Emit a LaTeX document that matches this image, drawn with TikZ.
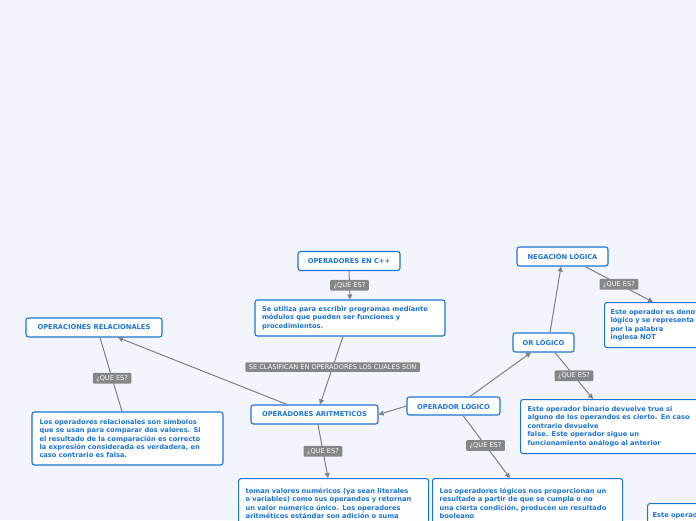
\documentclass[tikz,border=0pt]{standalone}
\usepackage{fontspec}
\setmainfont{DejaVu Sans}
\usetikzlibrary{arrows.meta}
\hyphenpenalty=10000
\exhyphenpenalty=10000
\definecolor{bg}{HTML}{F3F5FD}
\definecolor{bl}{HTML}{1C74D8}
\definecolor{lb}{HTML}{868686}
\definecolor{ln}{HTML}{7F7F8A}
\tikzset{
 box/.style={draw=bl,line width=1.1pt,fill=white,rounded corners=2.5pt,text=bl,font=\fontsize{6.7}{8.4}\selectfont\bfseries,align=left,inner sep=0pt},
 title/.style={box,align=center},
 lab/.style={fill=lb,text=white,font=\fontsize{6.6}{7}\selectfont,inner xsep=3.5pt,inner ysep=2.3pt,rounded corners=1pt},
 con/.style={draw=ln,line width=1pt},
 arr/.style={con,-{Triangle[length=5pt,width=5pt]}}
}
\begin{document}
\begin{tikzpicture}[x=1pt,y=-1pt]
\fill[bg] (0,0) rectangle (696,520);
\useasboundingbox (0,0) rectangle (696,520);
\clip (0,0) rectangle (696,520);
\node[title,minimum width=102,minimum height=19] (cpp) at (349,261) {OPERADORES EN C++};
\node[box,minimum width=190,minimum height=36,text width=176] (util) at (350,318) {Se utiliza para escribir programas mediante\\módulos que pueden ser funciones y\\procedimientos.};
\node[title,minimum width=136,minimum height=19] (rel) at (94,327.5) {OPERACIONES RELACIONALES};
\node[box,minimum width=191,minimum height=53,text width=176] (reld) at (127.5,438.5) {Los operadores relacionales son símbolos\\que se usan para comparar dos valores. Si\\el resultado de la comparación es correcto\\la expresión considerada es verdadera, en\\caso contrario es falsa.};
\node[title,minimum width=127,minimum height=19] (ari) at (314.5,414.5) {OPERADORES ARITMETICOS};
\node[title,minimum width=93,minimum height=18] (log) at (453.5,406) {OPERADOR LÓGICO};
\node[title,minimum width=61,minimum height=19] (or) at (543.5,342.5) {OR LÓGICO};
\node[title,minimum width=91,minimum height=19] (neg) at (562.5,256.5) {NEGACIÓN LÓGICA};
\node[box,minimum width=130,minimum height=45,text width=118,anchor=north west] (negd) at (604,302) {Este operador es denotado\\lógico y se representa\\por la palabra\\inglesa NOT};
\node[box,minimum width=200,minimum height=54,text width=186,anchor=north west] (ord) at (520,399) {Este operador binario devuelve true si\\alguno de los operandos es cierto. En caso\\contrario devuelve\\false. Este operador sigue un\\funcionamiento análogo al anterior};
\node[box,minimum width=190,minimum height=50,text width=176,anchor=north west] (ard) at (238,478) {toman valores numéricos (ya sean literales\\o variables) como sus operandos y retornan\\un valor numérico único. Los operadores\\aritméticos estándar son adición o suma};
\node[box,minimum width=190,minimum height=50,text width=176,anchor=north west] (logd) at (432,478) {Los operadores lógicos nos proporcionan un\\resultado a partir de que se cumpla o no\\una cierta condición, producen un resultado\\booleano};
\node[box,minimum width=100,minimum height=25,text width=90,anchor=north west] (extra) at (647,503) {Este operador};
% connectors
\draw[arr] (cpp.south) -- (util.north) node[lab,midway] {¿QUE ES?};
\draw[arr] (util.south -| 343,0) -- (ari.north -| 320,0) node[lab,pos=0.45] {SE CLASIFICAN EN OPERADORES LOS CUALES SON};
\draw[con] (rel.south -| 100,0) -- (reld.north -| 122,0) node[lab,pos=0.55] {¿QUE ES?};
\draw[arr] (ari.north -| 287,0) -- (rel.south -| 118,0);
\draw[arr] (log.west) -- (ari.east);
\draw[arr] (log.north -| 470,0) -- (or.south -| 531,0);
\draw[arr] (or.north -| 550,0) -- (neg.south -| 561,0);
\draw[arr] (neg.south -| 585,0) -- (negd.north -| 653,0) node[lab,midway] {¿QUE ES?};
\draw[arr] (or.south -| 555,0) -- (ord.north -| 593,0) node[lab,midway] {¿QUE ES?};
\draw[arr] (ari.south -| 318,0) -- (ard.north -| 328,0) node[lab,midway] {¿QUE ES?};
\draw[arr] (log.south -| 463,0) -- (logd.north -| 510,0) node[lab,pos=0.48] {¿QUE ES?};
\end{tikzpicture}
\end{document}
